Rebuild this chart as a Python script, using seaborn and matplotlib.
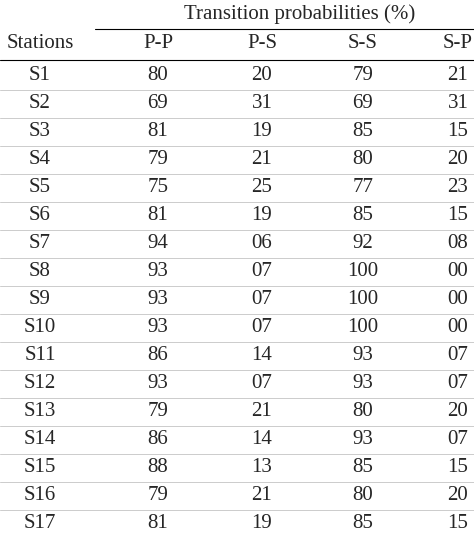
import matplotlib
matplotlib.use("Agg")
import matplotlib.pyplot as plt
import seaborn as sns

sns.set_style("white")
plt.rcParams["font.family"] = ["Liberation Serif", "DejaVu Serif"]

title = "Transition probabilities (%)"
columns = ["Stations", "P-P", "P-S", "S-S", "S-P"]
stations = [f"S{i}" for i in range(1, 18)]
pp = ["80", "69", "81", "79", "75", "81", "94", "93", "93", "93", "86", "93", "79", "86", "88", "79", "81"]
ps = ["20", "31", "19", "21", "25", "19", "06", "07", "07", "07", "14", "07", "21", "14", "13", "21", "19"]
ss = ["79", "69", "85", "80", "77", "85", "92", "100", "100", "100", "93", "93", "80", "93", "85", "80", "85"]
sp = ["21", "31", "15", "20", "23", "15", "08", "00", "00", "00", "07", "07", "20", "07", "15", "20", "15"]

col_x = [40, 158, 262, 363, 458]
fs = 15

fig = plt.figure(figsize=(4.74, 5.4), dpi=100)
ax = fig.add_axes([0, 0, 1, 1])
ax.set_xlim(0, 474)
ax.set_ylim(540, 0)
ax.axis("off")

ax.text(300, 14, title, ha="center", va="center", fontsize=fs)
ax.plot([95, 474], [29, 29], color="black", lw=0.8)
for x, c in zip(col_x, columns):
    ax.text(x, 44, c, ha="center", va="center", fontsize=fs)
ax.plot([0, 474], [60, 60], color="black", lw=0.8)

row_h = 28
for i, vals in enumerate(zip(stations, pp, ps, ss, sp)):
    y = 76 + i * row_h
    for x, v in zip(col_x, vals):
        ax.text(x, y, v, ha="center", va="center", fontsize=fs)
    if i < len(stations) - 1:
        ax.plot([0, 474], [y + 14, y + 14], color="#cccccc", lw=0.7)

fig.savefig("out.png", dpi=100)
